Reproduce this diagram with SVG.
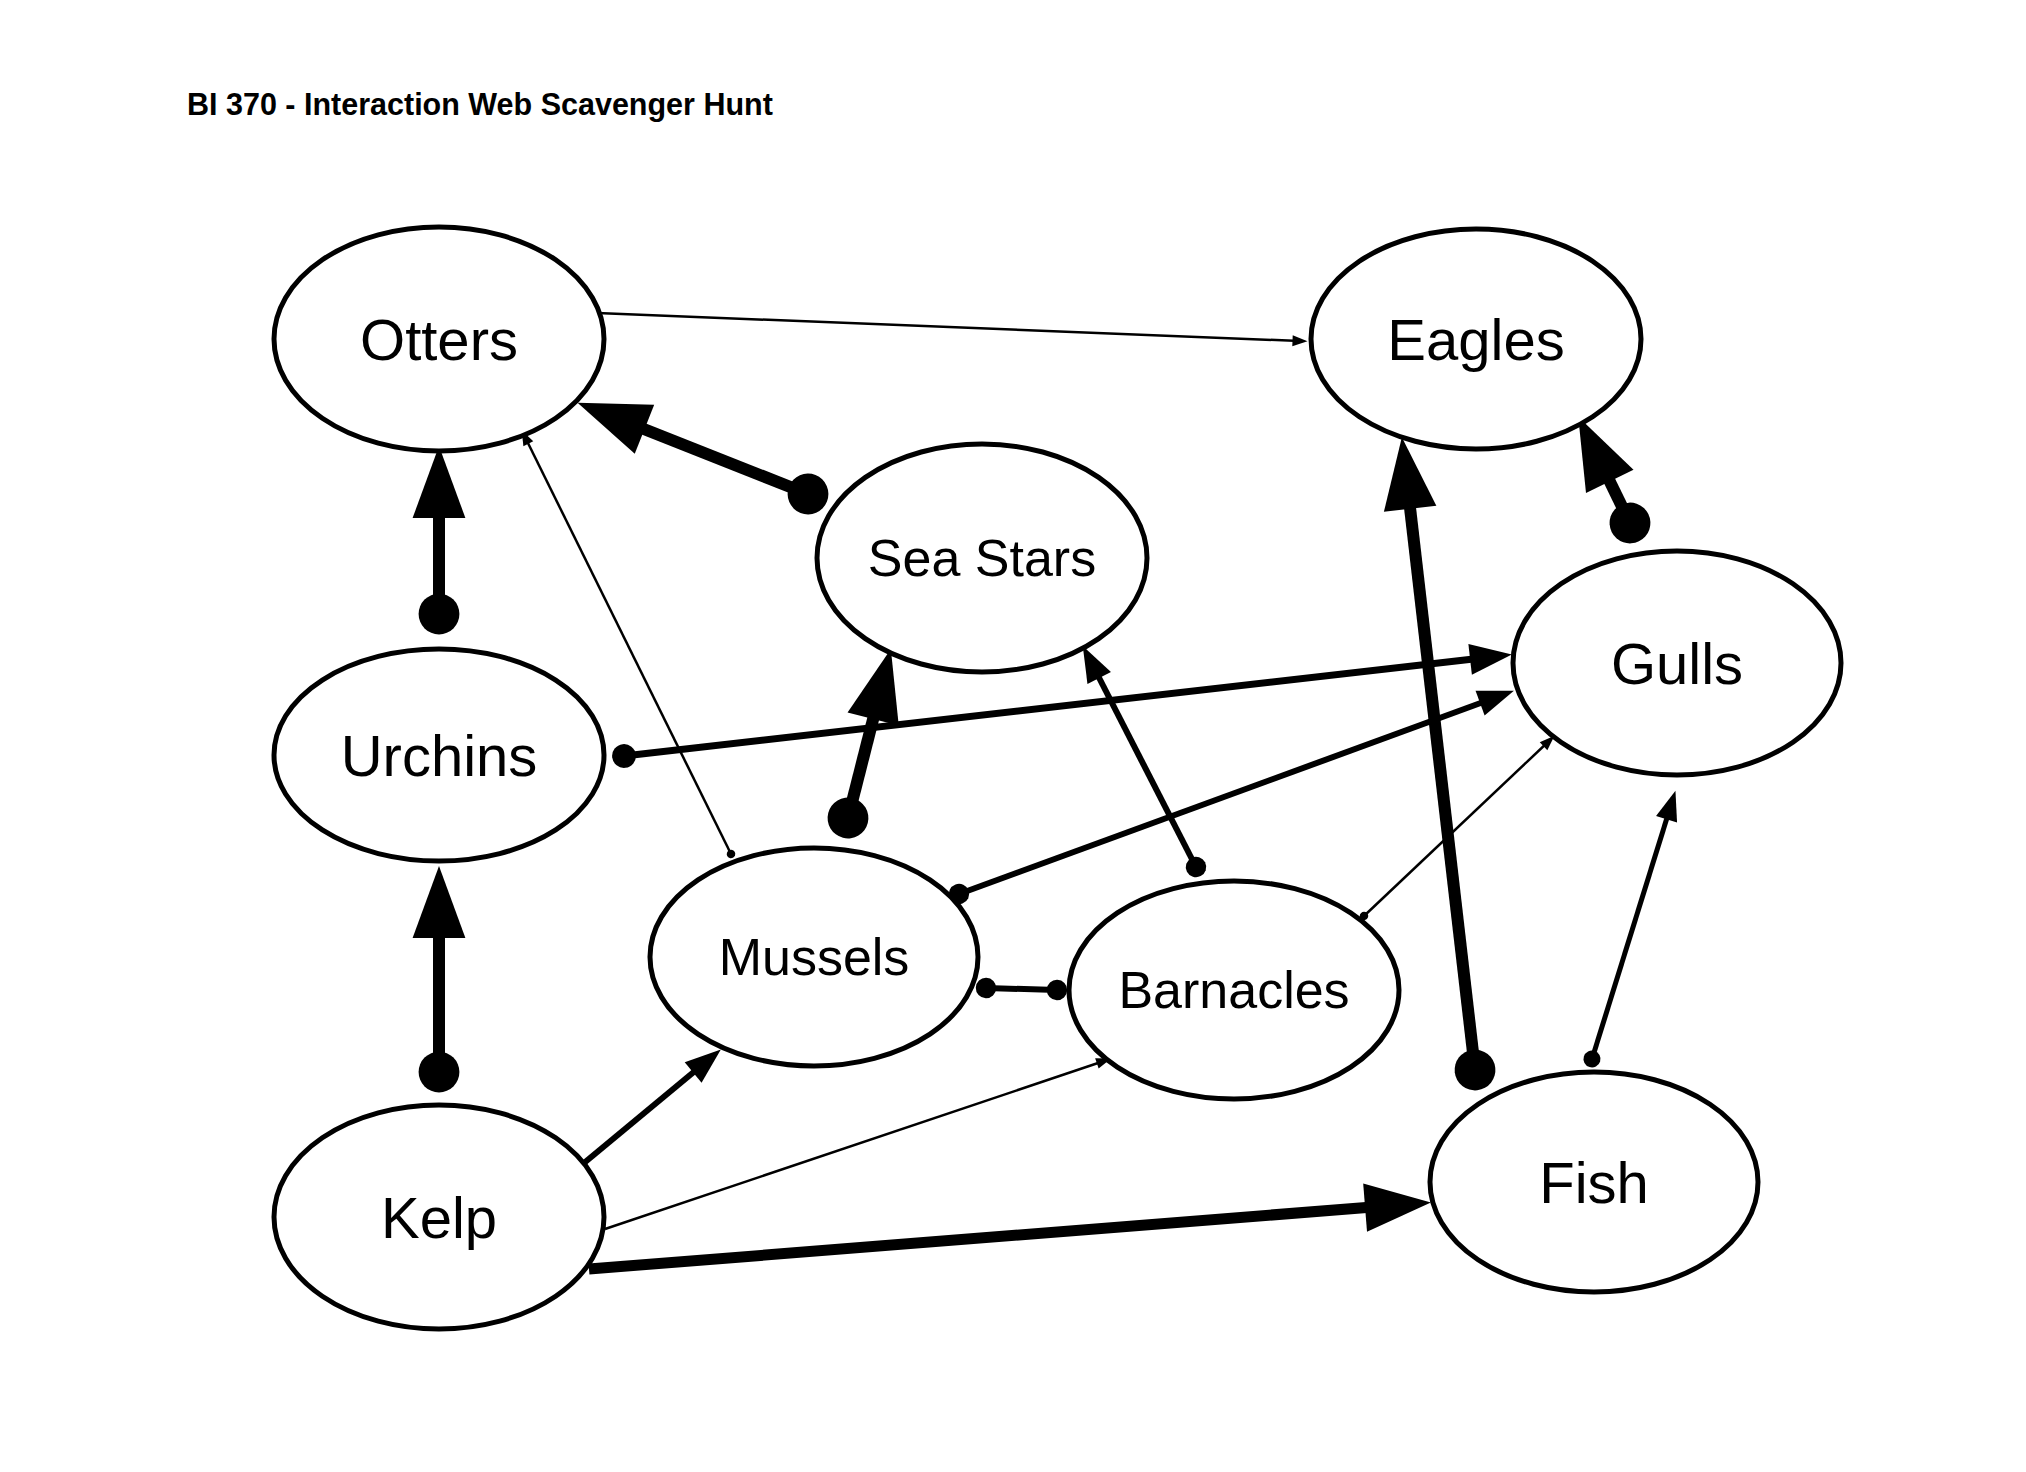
<svg xmlns="http://www.w3.org/2000/svg" width="2026" height="1472" viewBox="0 0 2026 1472">
<style>
.n ellipse{fill:#fff;stroke:#000;stroke-width:5}
.n text{font-family:"Liberation Sans",Arial,sans-serif;font-size:58px;text-anchor:middle;dominant-baseline:central;fill:#000}
.n text.s{font-size:52px}
#edges line{stroke:#000;fill:none}
.a{marker-end:url(#arr)}
.d{marker-start:url(#dot)}
</style>
<defs>
<marker id="arr" markerUnits="strokeWidth" markerWidth="7" markerHeight="5" refX="3" refY="2.2" orient="auto" overflow="visible"><path d="M0,0 L6,2.2 L0,4.4 z" fill="#000"/></marker>
<marker id="dot" markerUnits="strokeWidth" markerWidth="4" markerHeight="4" refX="0" refY="0" orient="auto" overflow="visible"><circle cx="0" cy="0" r="1.7" fill="#000"/></marker>
<marker id="dotE" markerUnits="strokeWidth" markerWidth="4" markerHeight="4" refX="0" refY="0" orient="auto" overflow="visible"><circle cx="0" cy="0" r="1.7" fill="#000"/></marker>
</defs>
<rect width="2026" height="1472" fill="#fff"/>
<text x="187" y="115" font-family="Liberation Sans,Arial,sans-serif" font-weight="bold" font-size="30.5">BI 370 - Interaction Web Scavenger Hunt</text>
<g id="edges">
<line class="a d" x1="597" y1="313" x2="1300" y2="341" stroke-width="2.5"/>
<line class="a d" x1="808" y1="494" x2="611" y2="416" stroke-width="12"/>
<line class="a d" x1="439" y1="614" x2="439" y2="482" stroke-width="12"/>
<line class="a d" x1="731" y1="854" x2="525" y2="437" stroke-width="2.5"/>
<line class="a d" x1="848" y1="818" x2="882" y2="684" stroke-width="12"/>
<line class="a d" x1="1196" y1="867" x2="1091" y2="662" stroke-width="6"/>
<line class="a d" x1="624" y1="756" x2="1491" y2="657" stroke-width="7"/>
<line class="a d" x1="959" y1="894" x2="1497" y2="697" stroke-width="6"/>
<line class="a d" x1="1364" y1="916" x2="1549" y2="741" stroke-width="2.5"/>
<line class="d" x1="986" y1="988" x2="1057" y2="990" stroke-width="6" marker-end="url(#dotE)"/>
<line class="a d" x1="439" y1="1072" x2="439" y2="902" stroke-width="12"/>
<line class="a" x1="584" y1="1163" x2="707" y2="1061" stroke-width="6"/>
<line class="a" x1="605" y1="1229" x2="1104" y2="1061" stroke-width="2.5"/>
<line class="a" x1="589" y1="1269" x2="1398" y2="1205" stroke-width="11"/>
<line class="a d" x1="1475" y1="1070" x2="1406" y2="473" stroke-width="12"/>
<line class="a d" x1="1630" y1="523" x2="1594" y2="449" stroke-width="12"/>
<line class="a d" x1="1592" y1="1059" x2="1671" y2="805" stroke-width="5"/>
</g>
<g id="otters" class="n"><ellipse cx="439" cy="339" rx="165" ry="112"/><text x="439" y="339">Otters</text></g>
<g id="eagles" class="n"><ellipse cx="1476" cy="339" rx="165" ry="110"/><text x="1476" y="339">Eagles</text></g>
<g id="seastars" class="n"><ellipse cx="982" cy="558" rx="165" ry="114"/><text class="s" x="982" y="558">Sea Stars</text></g>
<g id="gulls" class="n"><ellipse cx="1677" cy="663" rx="164" ry="112"/><text x="1677" y="663">Gulls</text></g>
<g id="urchins" class="n"><ellipse cx="439" cy="755" rx="165" ry="106"/><text x="439" y="755">Urchins</text></g>
<g id="mussels" class="n"><ellipse cx="814" cy="957" rx="164" ry="109"/><text class="s" x="814" y="957">Mussels</text></g>
<g id="barnacles" class="n"><ellipse cx="1234" cy="990" rx="165" ry="109"/><text class="s" x="1234" y="990">Barnacles</text></g>
<g id="kelp" class="n"><ellipse cx="439" cy="1217" rx="165" ry="112"/><text x="439" y="1217">Kelp</text></g>
<g id="fish" class="n"><ellipse cx="1594" cy="1182" rx="164" ry="110"/><text x="1594" y="1182">Fish</text></g>
</svg>
